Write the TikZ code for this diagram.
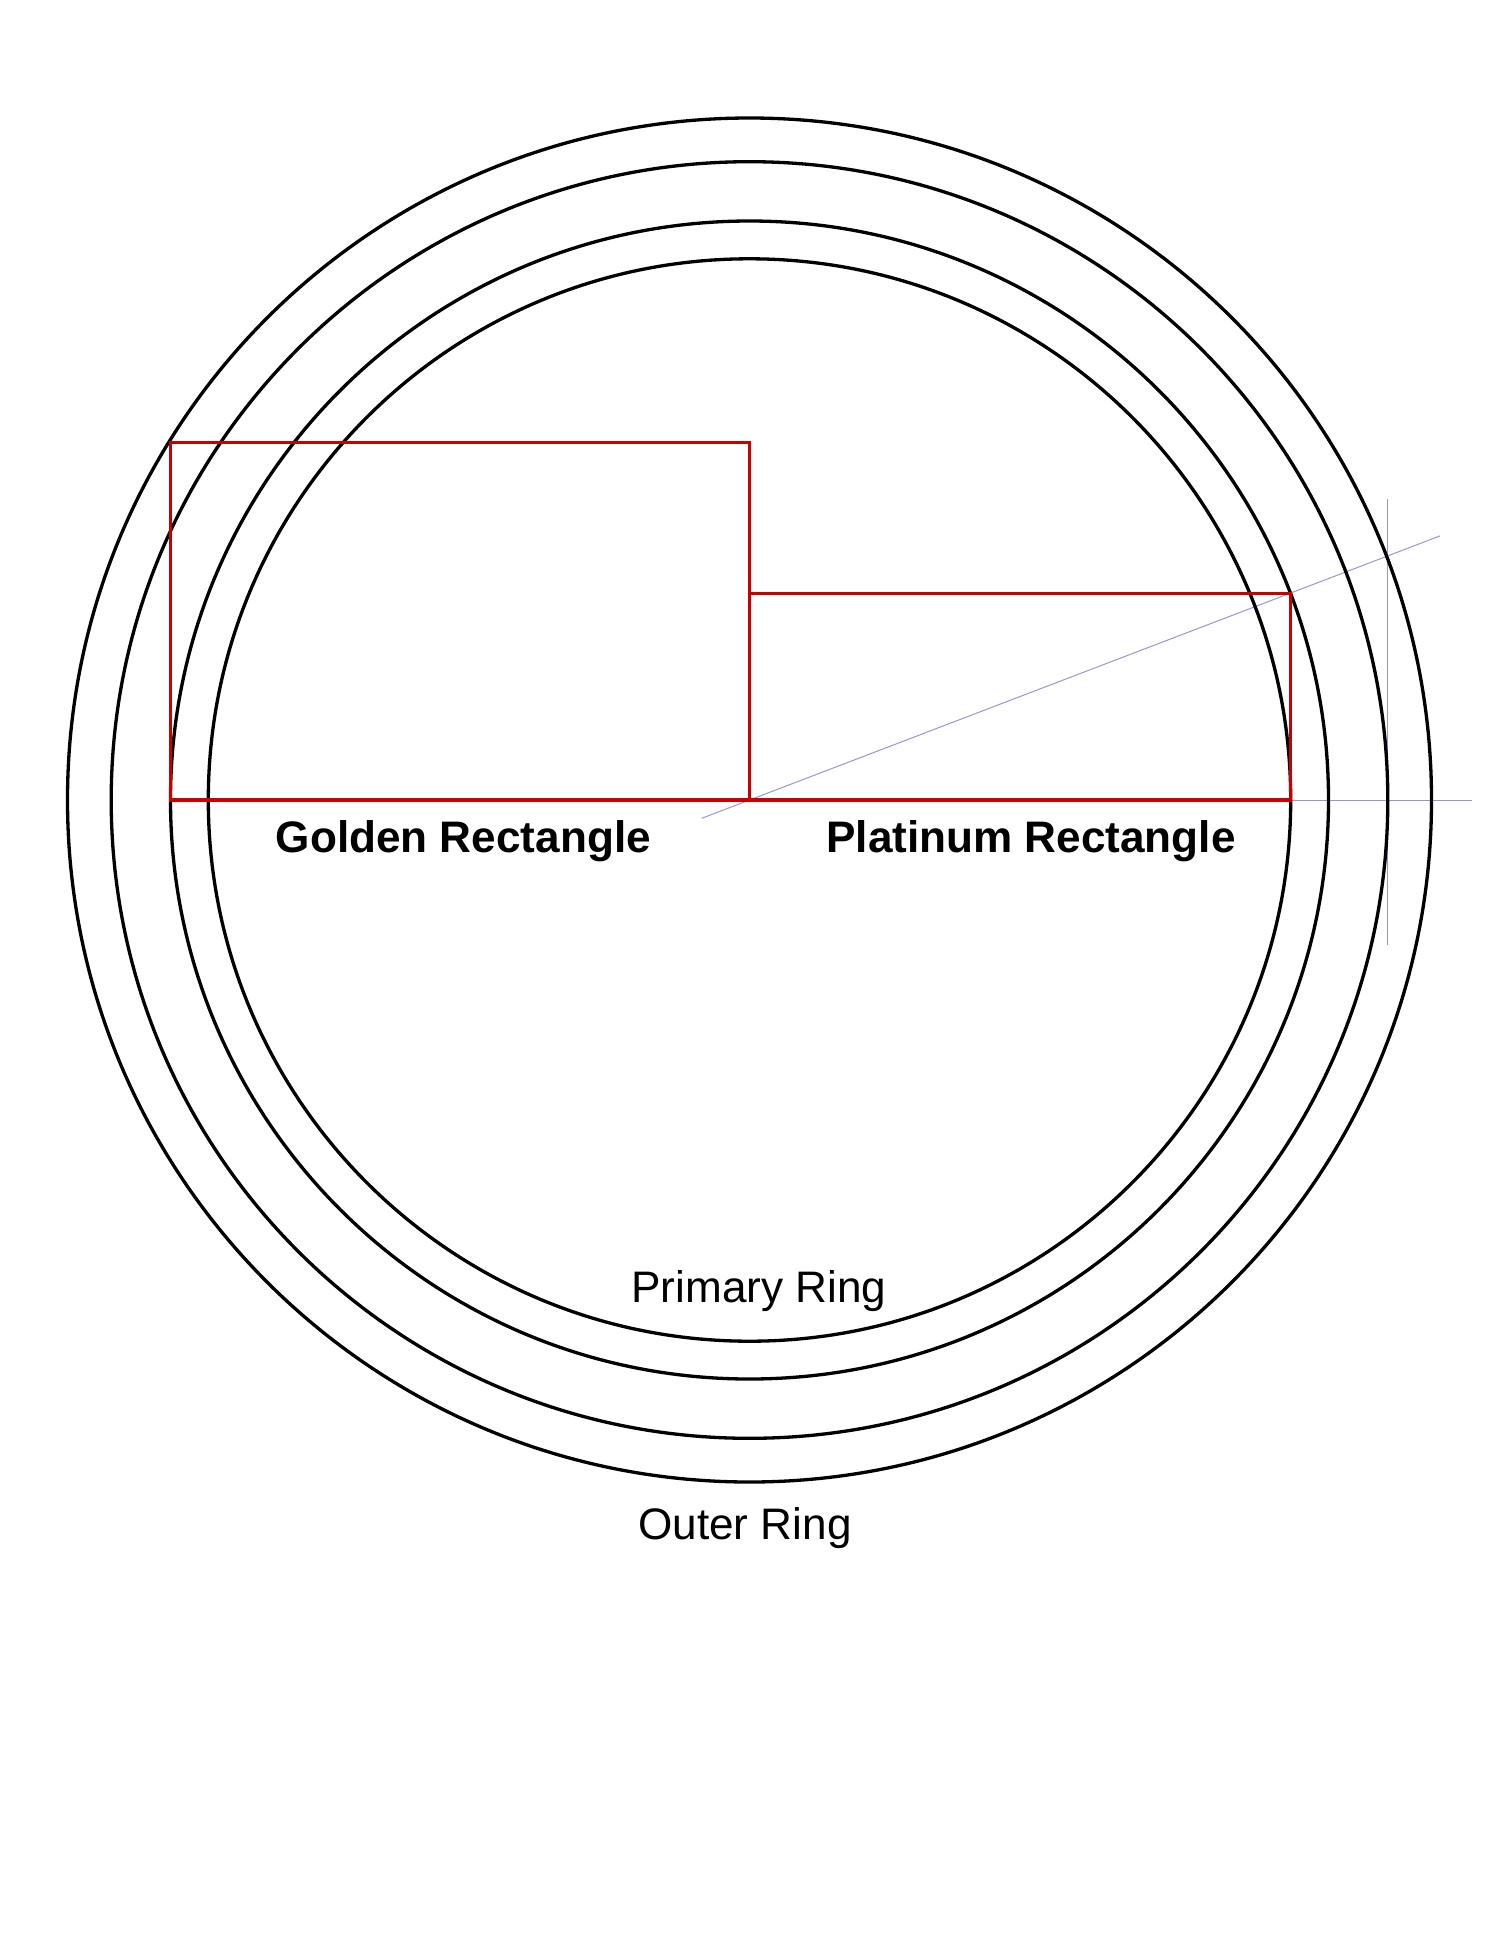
\documentclass[tikz,border=0pt]{standalone}
\usepackage{fontspec}
\setmainfont{Liberation Sans}
\definecolor{rectred}{RGB}{200,0,0}
\definecolor{guideblue}{RGB}{150,150,215}
\begin{document}
\begin{tikzpicture}[x=0.408pt,y=-0.408pt,
  ring/.style={draw=black,line width=1.35pt},
  rectline/.style={draw=rectred,line width=1.35pt},
  guide/.style={draw=guideblue,line width=0.4pt},
  boldlabel/.style={anchor=base,inner sep=0pt,font=\fontsize{18}{20}\selectfont\bfseries},
  plainlabel/.style={anchor=base,inner sep=0pt,font=\fontsize{18}{20}\selectfont}]
\useasboundingbox[fill=white] (0,0) rectangle (1500,1941);
% key points
\coordinate (O) at (749.5,800);
\coordinate (gTL) at (170.5,442.2);
\coordinate (pTL) at (749.5,593.3);
\coordinate (pBR) at (1290.7,800);
\coordinate (pTR) at (1290.7,593.3);
\coordinate (dS) at (701.7,818.3);
\coordinate (dE) at (1440,535.9);
\coordinate (vT) at (1387.7,499);
\coordinate (vB) at (1387.7,945);
\coordinate (hE) at (1471.7,800);
% guides
\draw[guide] (dS) -- (dE);
\draw[guide] (vT) -- (vB);
\draw[guide] (pBR) -- (hE);
% rings
\draw[ring] (O) circle[radius=541.2];
\draw[ring] (O) circle[radius=579];
\draw[ring] (O) circle[radius=638.3];
\draw[ring] (O) circle[radius=682];
% rectangles
\draw[rectline] (gTL) rectangle (O);
\draw[rectline] (pTL) rectangle (pBR);
% labels
\node[boldlabel] (golden) at (463.3,852) {Golden Rectangle};
\node[boldlabel] (platinum) at (1031,852) {Platinum Rectangle};
\node[plainlabel] (primary) at (759,1302.7) {Primary Ring};
\node[plainlabel] (outer) at (745,1539) {Outer Ring};
\end{tikzpicture}
\end{document}
